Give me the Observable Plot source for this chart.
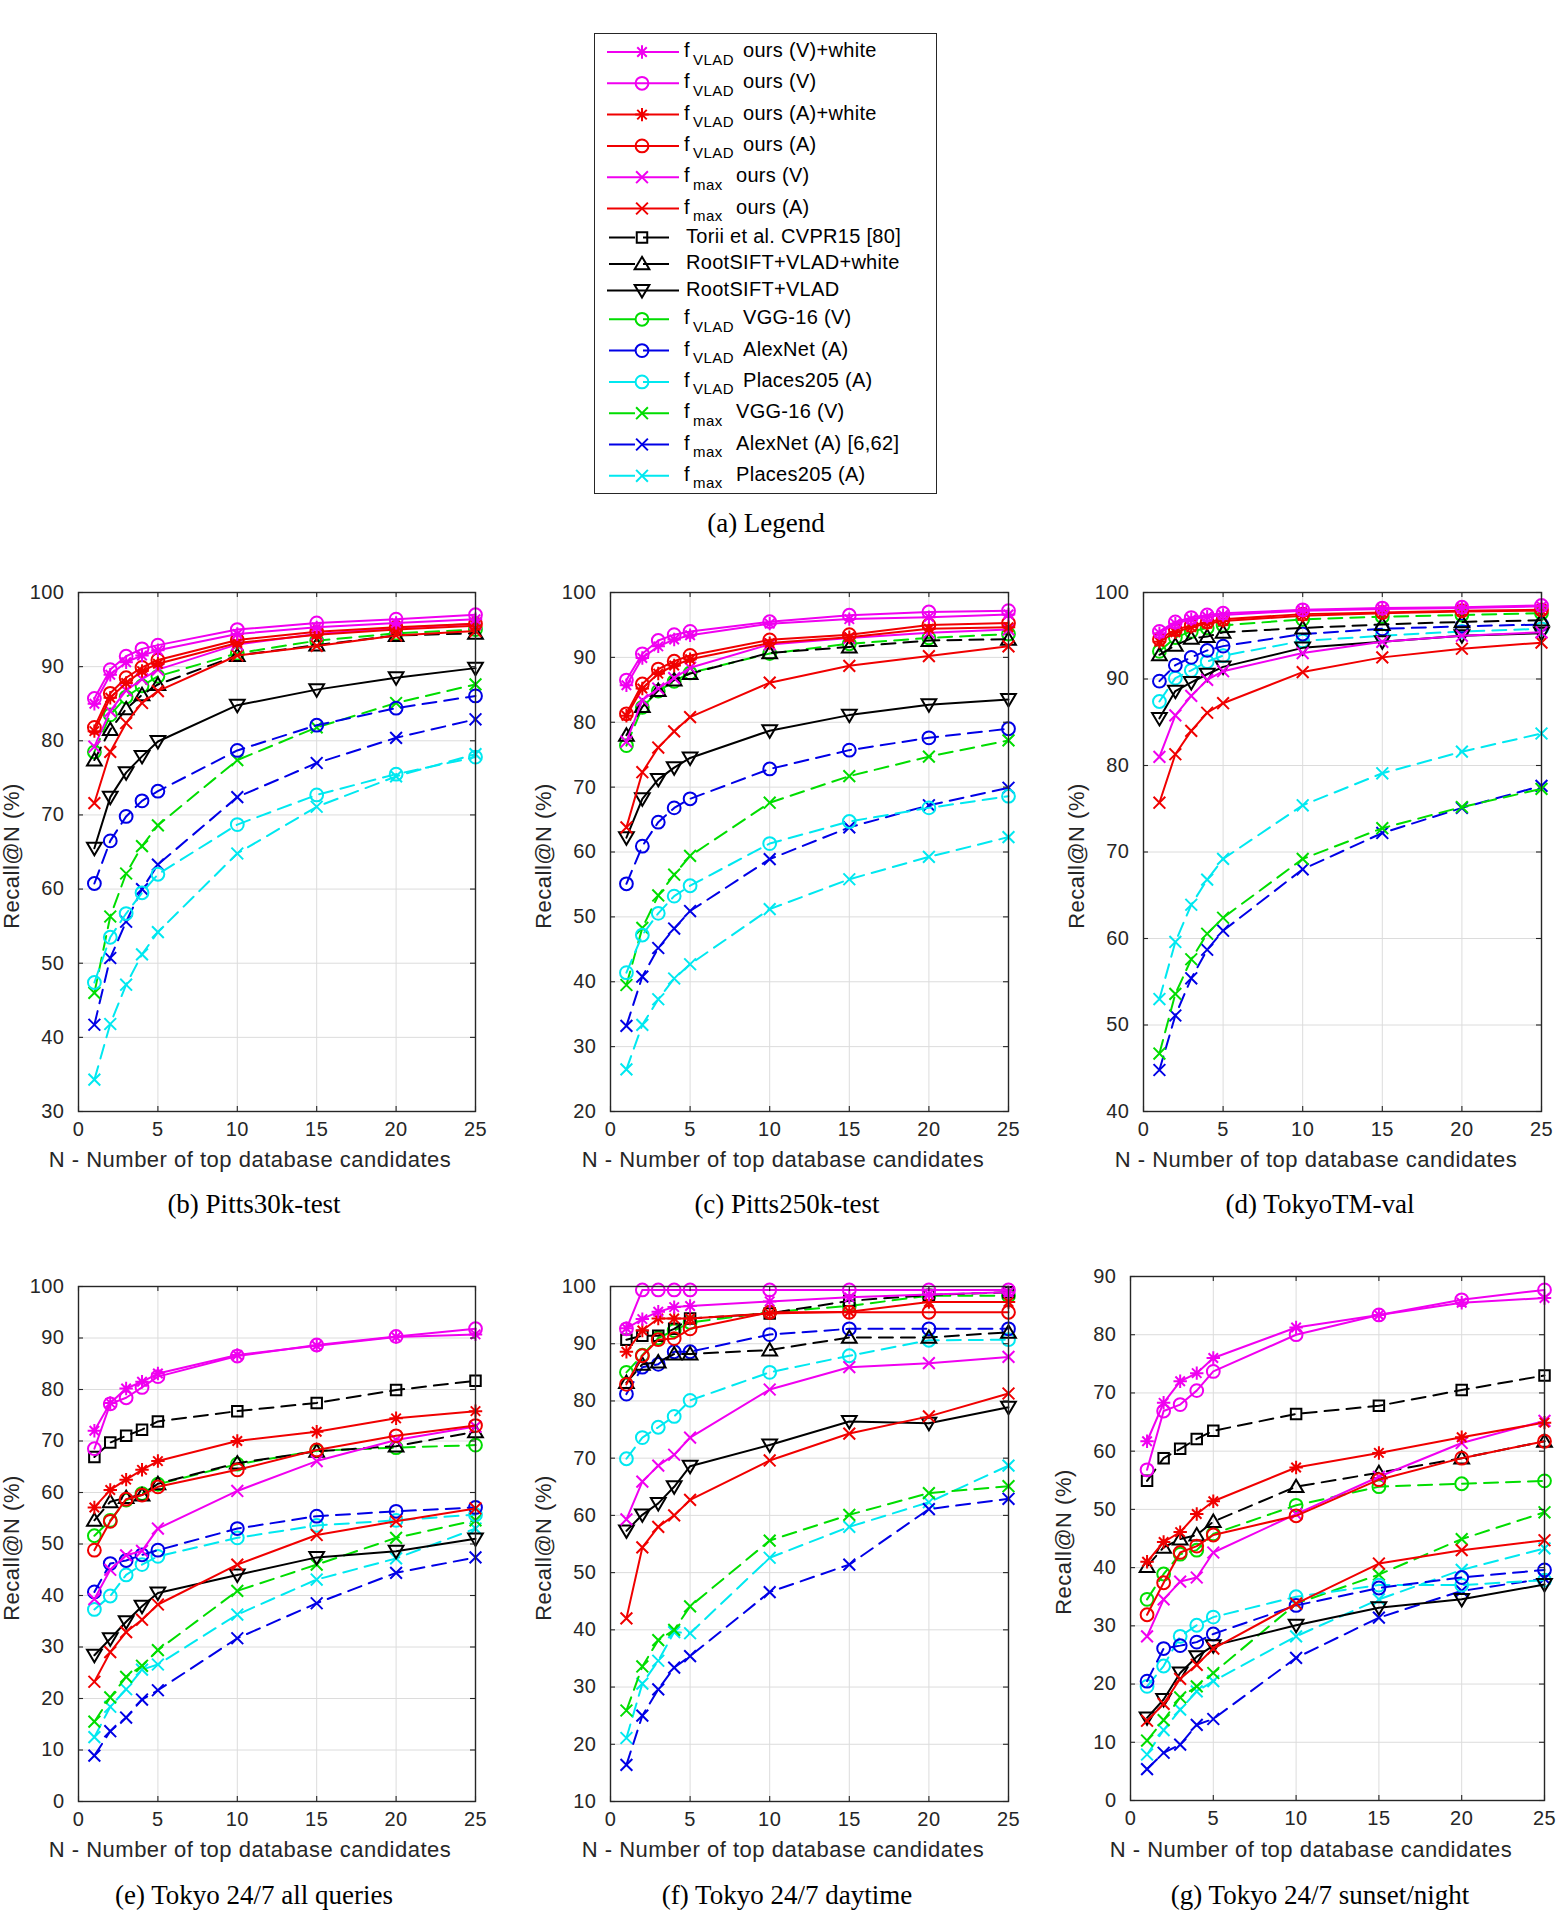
<!DOCTYPE html>
<html><head><meta charset="utf-8">
<script src="https://cdn.jsdelivr.net/npm/d3@7"></script>
<script src="https://cdn.jsdelivr.net/npm/@observablehq/plot@0.6"></script>
<style>
html,body{margin:0;padding:0;background:#fff;}
#page{position:relative;width:1557px;height:1914px;background:#fff;overflow:hidden;}
.t{position:absolute;white-space:nowrap;line-height:1;transform:translate(-50%,-50%);}
.xlab,.ylab{font-family:"Liberation Sans",Arial,sans-serif;font-size:22px;letter-spacing:0.5px;color:#262626;}
.ylab{transform:translate(-50%,-50%) rotate(-90deg);}
.cap{font-family:"Liberation Serif","Times New Roman",serif;font-size:27px;color:#000;}
</style></head><body><div id="page"></div>
<script>
// ---------------- data ----------------
const N = [1, 2, 3, 4, 5, 10, 15, 20, 25];
const xTicks = [0, 5, 10, 15, 20, 25];
const seriesLabels = [
  "f_{VLAD} ours (V)+white",
  "f_{VLAD} ours (V)",
  "f_{VLAD} ours (A)+white",
  "f_{VLAD} ours (A)",
  "f_{max} ours (V)",
  "f_{max} ours (A)",
  "Torii et al. CVPR15 [80]",
  "RootSIFT+VLAD+white",
  "RootSIFT+VLAD",
  "f_{VLAD} VGG-16 (V)",
  "f_{VLAD} AlexNet (A)",
  "f_{VLAD} Places205 (A)",
  "f_{max} VGG-16 (V)",
  "f_{max} AlexNet (A) [6,62]",
  "f_{max} Places205 (A)"
];

const pitts30kTest = [
  [85.0, 88.9, 90.6, 91.5, 92.2, 94.4, 95.3, 95.9, 96.4],
  [85.7, 89.6, 91.4, 92.4, 92.9, 95.0, 95.9, 96.4, 97.0],
  [81.3, 85.8, 87.8, 89.4, 90.4, 93.2, 94.3, 95.0, 95.5],
  [81.8, 86.4, 88.5, 89.9, 90.9, 93.6, 94.7, 95.3, 95.8],
  [79.2, 84.0, 86.8, 88.3, 89.6, 93.0, 94.4, 95.2, 95.8],
  [71.6, 78.5, 82.4, 85.1, 86.7, 91.5, 92.8, 94.2, 94.8],
  null,
  [77.4, 81.5, 84.3, 86.2, 87.6, 91.5, 92.9, 94.2, 94.5],
  [65.5, 72.4, 75.7, 77.9, 79.9, 84.8, 86.9, 88.5, 89.8],
  [78.5, 83.5, 85.9, 87.4, 88.7, 91.8, 93.5, 94.5, 95.0],
  [60.75, 66.5, 69.8, 71.9, 73.2, 78.7, 82.1, 84.4, 86.05],
  [47.4, 53.5, 56.7, 59.5, 62.0, 68.7, 72.7, 75.5, 77.8],
  [46.0, 56.3, 62.1, 65.8, 68.6, 77.4, 81.8, 85.1, 87.6],
  [41.7, 50.7, 55.6, 60.0, 63.3, 72.4, 77.0, 80.4, 82.9],
  [34.3, 41.8, 47.1, 51.2, 54.2, 64.8, 71.1, 75.2, 78.2]
];
const pitts250kTest = [
  [85.7, 89.9, 91.7, 92.75, 93.4, 95.2, 95.9, 96.2, 96.6],
  [86.5, 90.55, 92.6, 93.5, 94.0, 95.5, 96.5, 97.0, 97.2],
  [81.0, 85.2, 87.5, 88.75, 89.7, 92.2, 93.1, 94.4, 94.65],
  [81.3, 85.9, 88.2, 89.4, 90.3, 92.7, 93.5, 95.0, 95.3],
  [77.0, 83.4, 85.2, 86.8, 88.4, 92.0, 93.0, 93.8, 94.3],
  [63.8, 72.3, 76.1, 78.6, 80.8, 86.1, 88.7, 90.2, 91.7],
  null,
  [78.0, 82.4, 84.9, 86.5, 87.5, 90.7, 91.6, 92.6, 92.8],
  [62.2, 68.2, 71.2, 73.0, 74.5, 78.7, 81.1, 82.7, 83.5],
  [76.4, 82.3, 84.8, 86.3, 87.6, 90.6, 92.1, 93.0, 93.6],
  [55.1, 60.9, 64.6, 66.8, 68.2, 72.8, 75.7, 77.6, 79.0],
  [41.4, 47.2, 50.55, 53.2, 54.8, 61.3, 64.7, 66.8, 68.6],
  [39.5, 48.3, 53.3, 56.5, 59.4, 67.6, 71.7, 74.7, 77.2],
  [33.2, 40.8, 45.2, 48.2, 50.9, 58.9, 63.8, 67.2, 69.9],
  [26.5, 33.35, 37.3, 40.5, 42.7, 51.2, 55.8, 59.25, 62.3]
];
const tokyoTMVal = [
  [95.3, 96.4, 96.9, 97.2, 97.4, 97.9, 98.1, 98.2, 98.4],
  [95.5, 96.6, 97.1, 97.4, 97.6, 98.0, 98.2, 98.3, 98.5],
  [94.3, 95.4, 96.0, 96.4, 96.7, 97.3, 97.6, 97.8, 97.9],
  [94.6, 95.7, 96.2, 96.6, 96.9, 97.5, 97.7, 97.9, 98.0],
  [81.0, 85.8, 88.05, 89.9, 90.9, 93.0, 94.3, 95.0, 95.4],
  [75.7, 81.3, 84.0, 86.1, 87.2, 90.8, 92.5, 93.5, 94.2],
  null,
  [92.8, 93.9, 94.7, 94.9, 95.4, 95.9, 96.3, 96.6, 96.8],
  [85.45, 88.6, 89.6, 90.55, 91.4, 93.6, 94.3, 95.0, 95.3],
  [93.2, 94.8, 95.5, 95.9, 96.2, 96.9, 97.2, 97.4, 97.6],
  [89.75, 91.6, 92.5, 93.3, 93.8, 95.2, 95.8, 96.1, 96.3],
  [87.4, 90.1, 91.0, 92.0, 92.7, 94.4, 95.0, 95.5, 95.8],
  [46.7, 53.6, 57.6, 60.55, 62.4, 69.2, 72.75, 75.2, 77.3],
  [44.8, 51.1, 55.4, 58.7, 60.9, 68.0, 72.2, 75.1, 77.65],
  [53.0, 59.6, 63.9, 66.8, 69.2, 75.4, 79.1, 81.6, 83.7]
];
const tokyo247All = [
  [72.0, 77.4, 80.2, 81.5, 83.1, 86.7, 88.5, 90.2, 90.7],
  [68.5, 77.2, 78.4, 80.4, 82.5, 86.5, 88.65, 90.3, 91.8],
  [57.1, 60.5, 62.5, 64.4, 66.1, 70.0, 71.8, 74.4, 75.8],
  [48.8, 54.4, 58.7, 59.5, 61.1, 64.4, 68.25, 71.0, 73.0],
  [39.3, 45.0, 47.8, 48.65, 53.0, 60.3, 66.1, 70.2, 72.8],
  [23.25, 29.0, 32.9, 35.3, 38.25, 46.0, 51.75, 54.4, 56.9],
  [66.9, 69.7, 71.0, 72.2, 73.8, 75.8, 77.4, 79.9, 81.7],
  [54.6, 58.2, 59.0, 59.5, 61.7, 65.7, 68.0, 69.0, 71.8],
  [28.4, 31.6, 34.9, 37.9, 40.5, 44.0, 47.4, 48.6, 51.0],
  [51.6, 54.6, 58.5, 59.8, 61.6, 65.5, 68.1, 68.7, 69.2],
  [40.7, 46.2, 46.8, 47.9, 48.8, 53.0, 55.4, 56.35, 57.1],
  [37.3, 39.9, 44.0, 46.0, 47.6, 51.2, 53.6, 54.6, 55.7],
  [15.5, 20.2, 24.2, 26.35, 29.4, 40.9, 46.0, 51.2, 54.6],
  [8.9, 13.65, 16.3, 19.8, 21.6, 31.7, 38.5, 44.4, 47.4],
  [12.5, 18.4, 21.8, 25.6, 26.6, 36.3, 43.1, 47.2, 53.0]
];
const tokyo247Day = [
  [92.7, 94.3, 95.6, 96.4, 96.6, 97.4, 98.1, 98.6, 99.0],
  [92.6, 99.4, 99.4, 99.4, 99.4, 99.4, 99.4, 99.4, 99.4],
  [88.6, 92.3, 94.4, 94.4, 94.4, 95.3, 95.6, 97.3, 97.3],
  [82.9, 87.9, 90.7, 90.9, 92.6, 95.5, 95.5, 95.5, 95.5],
  [59.3, 65.9, 68.7, 70.6, 73.6, 82.0, 85.9, 86.6, 87.7],
  [42.0, 54.4, 58.0, 60.0, 62.7, 69.6, 74.3, 77.3, 81.3],
  [90.7, 91.4, 91.4, 92.6, 94.4, 95.3, 97.5, 98.5, 99.0],
  [83.2, 86.4, 86.8, 88.2, 88.2, 88.9, 91.1, 91.1, 92.0],
  [57.3, 60.1, 62.1, 65.0, 68.6, 72.3, 76.4, 76.1, 78.9],
  [85.0, 88.0, 91.0, 92.3, 93.7, 95.5, 96.6, 98.4, 98.4],
  [81.2, 85.9, 86.4, 88.6, 88.6, 91.6, 92.6, 92.6, 92.6],
  [69.9, 73.6, 75.4, 77.3, 80.1, 85.0, 87.9, 90.6, 90.7],
  [25.9, 33.6, 38.2, 40.0, 44.1, 55.6, 60.1, 63.9, 65.1],
  [16.4, 25.0, 29.6, 33.4, 35.4, 46.6, 51.4, 61.1, 62.9],
  [21.1, 30.6, 34.6, 39.6, 39.4, 52.6, 58.0, 62.3, 68.7]
];
const tokyo247Night = [
  [61.7, 68.3, 72.0, 73.4, 76.0, 81.25, 83.4, 85.5, 86.3],
  [56.8, 66.9, 68.0, 70.4, 73.7, 80.0, 83.4, 86.0, 87.7],
  [41.0, 44.4, 46.1, 49.2, 51.4, 57.2, 59.7, 62.4, 64.9],
  [31.9, 37.4, 42.6, 43.7, 45.6, 48.9, 55.1, 58.8, 61.7],
  [28.2, 34.55, 37.6, 38.3, 42.6, 49.2, 55.6, 61.4, 65.2],
  [13.7, 16.6, 20.9, 23.3, 26.1, 33.8, 40.7, 43.0, 44.7],
  [54.9, 58.8, 60.4, 62.1, 63.5, 66.4, 67.8, 70.5, 73.0],
  [40.2, 43.5, 44.9, 45.6, 47.9, 53.9, 56.3, 58.8, 61.7],
  [14.2, 17.35, 21.9, 24.7, 26.6, 30.1, 33.1, 34.55, 37.1],
  [34.55, 38.9, 42.3, 43.0, 45.8, 50.7, 53.9, 54.4, 54.9],
  [20.5, 26.1, 26.6, 27.2, 28.6, 33.5, 36.5, 38.3, 39.6],
  [19.6, 23.1, 28.2, 30.1, 31.5, 35.0, 37.0, 37.0, 37.85],
  [10.3, 13.8, 17.7, 19.6, 21.9, 33.8, 38.8, 44.9, 49.5],
  [5.4, 8.2, 9.6, 13.0, 14.0, 24.5, 31.4, 36.0, 38.1],
  [7.9, 12.1, 15.6, 18.75, 20.5, 28.2, 34.55, 39.6, 43.3]
];

// ---------------- styles ----------------
const MAG = "#f000f0", RED = "#f00000", BLK = "#000000", GRN = "#00dd00", BLU = "#0000e6", CYN = "#00e8f0";
const seriesColor = [MAG, MAG, RED, RED, MAG, RED, BLK, BLK, BLK, GRN, BLU, CYN, GRN, BLU, CYN];
const seriesMarker = ["asterisk","circle","asterisk","circle","times","times","square","triangle","triangleDown","circle","circle","circle","times","times","times"];
const seriesDashed = [false,false,false,false,false,false,true,true,false,true,true,true,true,true,true];

const SYM = {
  circle: {draw(c, s) { const r = Math.sqrt(s / Math.PI); c.moveTo(r, 0); c.arc(0, 0, r, 0, 2 * Math.PI); }},
  asterisk: {draw(c, s) { const r = Math.sqrt(s / Math.PI) * 1.05, d = r * 0.7071;
    c.moveTo(-r, 0); c.lineTo(r, 0); c.moveTo(0, -r); c.lineTo(0, r);
    c.moveTo(-d, -d); c.lineTo(d, d); c.moveTo(-d, d); c.lineTo(d, -d); }},
  times: {draw(c, s) { const r = Math.sqrt(s / Math.PI) * 0.92;
    c.moveTo(-r, -r); c.lineTo(r, r); c.moveTo(-r, r); c.lineTo(r, -r); }},
  square: {draw(c, s) { const h = Math.sqrt(s / Math.PI) * 0.82; c.rect(-h, -h, 2 * h, 2 * h); }},
  triangle: {draw(c, s) { const r = Math.sqrt(s / Math.PI);
    c.moveTo(0, -1.1 * r); c.lineTo(1.15 * r, 0.85 * r); c.lineTo(-1.15 * r, 0.85 * r); c.closePath(); }},
  triangleDown: {draw(c, s) { const r = Math.sqrt(s / Math.PI);
    c.moveTo(0, 1.1 * r); c.lineTo(1.15 * r, -0.85 * r); c.lineTo(-1.15 * r, -0.85 * r); c.closePath(); }}
};
const MR = 6.4, LW = 2, DASH = "14,8";
const AXC = "#262626", GRID = "#dcdcdc";

const page = document.getElementById("page");

function addText(cls, txt, x, y) {
  const d = document.createElement("div");
  d.className = "t " + cls; d.textContent = txt;
  d.style.left = x + "px"; d.style.top = y + "px";
  page.appendChild(d);
}

// panel: frame box in page px [L,R,T,B]
function panel(data, yDomain, yTicks, box, xlabX, caption, capX, xlabY, capY) {
  const [L, R, T, B] = box;
  const mL = 70, mR = 14, mT = 12, mB = 40;
  const W = R - L + mL + mR, H = B - T + mT + mB;
  const iw = R - L, ih = B - T;
  const marks = [
    Plot.gridX({ticks: xTicks, stroke: GRID, strokeOpacity: 1, strokeWidth: 1}),
    Plot.gridY({ticks: yTicks, stroke: GRID, strokeOpacity: 1, strokeWidth: 1})
  ];
  for (let i = seriesLabels.length - 1; i >= 0; --i) {
    const vals = data[i];
    if (!vals) continue;
    const rows = vals.map((v, j) => ({N: N[j], v}));
    marks.push(Plot.line(rows, {x: "N", y: "v", stroke: seriesColor[i], strokeWidth: LW,
      strokeDasharray: seriesDashed[i] ? DASH : null, strokeLinejoin: "round"}));
    marks.push(Plot.dot(rows, {x: "N", y: "v", symbol: SYM[seriesMarker[i]], r: MR,
      stroke: seriesColor[i], fill: "none", strokeWidth: LW}));
  }
  marks.push(
    Plot.frame({stroke: AXC, strokeWidth: 1.4}),
    Plot.tickX(xTicks, {x: d => d, stroke: AXC, strokeWidth: 1.1, insetBottom: ih - 5}),
    Plot.tickX(xTicks, {x: d => d, stroke: AXC, strokeWidth: 1.1, insetTop: ih - 5}),
    Plot.tickY(yTicks, {y: d => d, stroke: AXC, strokeWidth: 1.1, insetRight: iw - 5}),
    Plot.tickY(yTicks, {y: d => d, stroke: AXC, strokeWidth: 1.1, insetLeft: iw - 5}),
    Plot.axisX({ticks: xTicks, tickSize: 0, tickPadding: 10, label: null}),
    Plot.axisY({ticks: yTicks, tickSize: 0, tickPadding: 14, label: null})
  );
  const svg = Plot.plot({
    width: W, height: H, marginLeft: mL, marginRight: mR, marginTop: mT, marginBottom: mB,
    x: {domain: [0, 25]}, y: {domain: yDomain},
    style: {fontFamily: "'Liberation Sans', Arial, sans-serif", fontSize: "20px", letterSpacing: "0.5px",
            color: AXC, background: "transparent", overflow: "visible"},
    marks
  });
  svg.style.position = "absolute";
  svg.style.left = (L - mL) + "px";
  svg.style.top = (T - mT) + "px";
  page.appendChild(svg);
  addText("xlab", "N - Number of top database candidates", xlabX, xlabY);
  addText("ylab", "Recall@N (%)", L - 66, (T + B) / 2 + 4);
  addText("cap", caption, capX, capY);
}

const t10 = (a, b) => d3.range(a, b + 1, 10);
panel(pitts30kTest, [30, 100], t10(30, 100), [78, 475, 592, 1111], 250, "(b) Pitts30k-test", 254, 1160, 1204);
panel(pitts250kTest, [20, 100], t10(20, 100), [610, 1008, 592, 1111], 783, "(c) Pitts250k-test", 787, 1160, 1204);
panel(tokyoTMVal, [40, 100], t10(40, 100), [1143, 1541, 592, 1111], 1316, "(d) TokyoTM-val", 1320, 1160, 1204);
panel(tokyo247All, [0, 100], t10(0, 100), [78, 475, 1286, 1801], 250, "(e) Tokyo 24/7 all queries", 254, 1850, 1895);
panel(tokyo247Day, [10, 100], t10(10, 100), [610, 1008, 1286, 1801], 783, "(f) Tokyo 24/7 daytime", 787, 1850, 1895);
panel(tokyo247Night, [0, 90], t10(0, 90), [1130, 1544, 1276, 1800], 1311, "(g) Tokyo 24/7 sunset/night", 1320, 1850, 1895);

// ---------------- legend ----------------
(function legend() {
  const LX = 594, LY = 33, LWd = 343, LH = 461;
  const svg = d3.select(page).append("svg")
    .attr("width", LWd).attr("height", LH)
    .style("position", "absolute").style("left", LX + "px").style("top", LY + "px");
  svg.append("rect").attr("x", 0.5).attr("y", 0.5).attr("width", LWd - 1).attr("height", LH - 1)
    .attr("fill", "#fff").attr("stroke", AXC).attr("stroke-width", 1);
  let top = 3.35;
  seriesLabels.forEach((lab, i) => {
    const m = lab.match(/^f_\{(\w+)\} (.*)$/);
    const h = m ? 31.3 : 26.5;
    const cy = top + h / 2;
    top += h;
    const g = svg.append("g");
    const dashed = seriesDashed[i];
    g.append("line").attr("x1", dashed ? 15 : 13).attr("x2", dashed ? 76 : 85)
      .attr("y1", cy).attr("y2", cy).attr("stroke", seriesColor[i]).attr("stroke-width", LW)
      .attr("stroke-dasharray", dashed ? "26,8" : null);
    g.append("path").attr("transform", `translate(48,${cy})`)
      .attr("d", d3.symbol(SYM[seriesMarker[i]], MR * MR * Math.PI)())
      .attr("fill", "none").attr("stroke", seriesColor[i]).attr("stroke-width", LW);
    const txt = (s, x, y, fs, ls) => g.append("text").attr("x", x).attr("y", y).text(s)
      .attr("font-family", "'Liberation Sans', Arial, sans-serif").attr("font-size", fs)
      .attr("letter-spacing", ls).attr("fill", "#000");
    if (m) {
      txt("f", 90, cy + 5, 20, 0.3);
      txt(m[1], 99, cy + 12.5, 15, 0.5);
      txt(m[2], m[1] === "VLAD" ? 149 : 142, cy + 5, 20, 0.3);
    } else {
      txt(lab, 92, cy + 5.5, 20, 0.3);
    }
  });
  addText("cap", "(a) Legend", 766, 523);
})();
</script>
</body></html>
